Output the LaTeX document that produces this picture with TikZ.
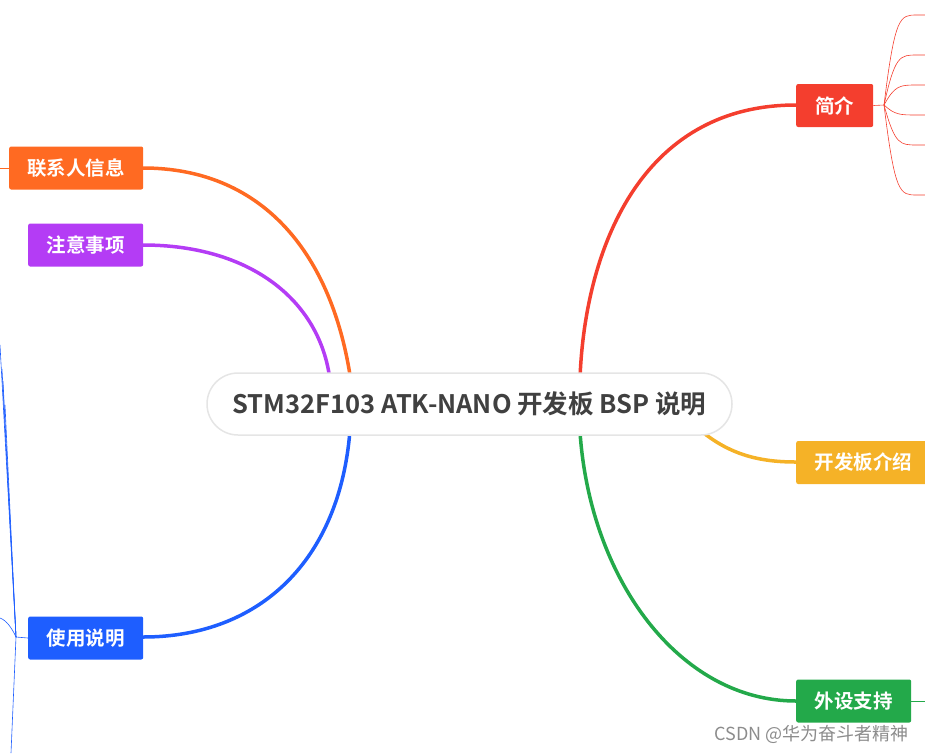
\documentclass[tikz,border=0pt]{standalone}
\usepackage{fontspec}
\setmainfont{Noto Sans CJK SC}
\newfontfamily\cjkb{Noto Sans CJK SC Bold}
\definecolor{cred}{HTML}{F43E2E}
\definecolor{cora}{HTML}{FF6A22}
\definecolor{cpur}{HTML}{B43CF5}
\definecolor{cblu}{HTML}{1E5EFF}
\definecolor{cyel}{HTML}{F5B227}
\definecolor{cgrn}{HTML}{23A94A}
\begin{document}
\begin{tikzpicture}[x=1pt,y=-1pt,
 topic/.style={fill=#1,rounded corners=2pt,text=white,font=\cjkb\fontsize{19.5}{21}\selectfont,minimum height=43pt,inner xsep=4pt,anchor=west},
 branch/.style={draw=#1,line width=3.5pt,line cap=round},
 thin/.style={draw=#1,line width=0.6pt}]
\useasboundingbox (0,0) rectangle (925,753);
% curves
\draw[branch=cred] (580,378) .. controls (585,250) and (640,105) .. (796,105);
\draw[branch=cora] (350,375) .. controls (330,250) and (260,168) .. (143,168);
\draw[branch=cpur] (330,380) .. controls (320,300) and (250,245) .. (143,245);
\draw[branch=cblu] (350,430) .. controls (340,560) and (260,637) .. (143,637);
\draw[branch=cyel] (700,430) .. controls (730,455) and (760,462) .. (796,462);
\draw[branch=cgrn] (580,432) .. controls (590,580) and (680,701) .. (796,701);
% center
\node[draw=black!10,line width=1.5pt,fill=white,rounded corners=31pt,minimum width=525pt,minimum height=62pt,font=\cjkb\fontsize{25.5}{27}\selectfont,text=black!75] (c) at (469.5,404) {STM32F103 ATK-NANO 开发板 BSP 说明};
% topics
\node[topic=cred,minimum width=77pt] (a) at (796,105.5) {简介};
\node[topic=cora,minimum width=134pt] (b) at (9,168) {联系人信息};
\node[topic=cpur,minimum width=115pt] (p) at (28,245) {注意事项};
\node[topic=cblu,minimum width=115pt] (u) at (28,638) {使用说明};
\node[topic=cyel,minimum width=135pt] (y) at (796,462.5) {开发板介绍};
\node[topic=cgrn,minimum width=115pt] (g) at (796,701) {外设支持};
% sub branches red
\coordinate (rh) at (884,105);
\draw[thin=cred] (a.east) -- (rh);
\foreach \yy in {15,55,85,115,145,195}
 \draw[thin=cred] (rh) .. controls (895,\yy) and (900,\yy) .. (917,\yy) -- (925,\yy);
% orange, green stubs
\coordinate (ol) at (0,168);
\draw[thin=cora] (b.west) -- (ol);
\coordinate (gr) at (925,701);
\draw[thin=cgrn] (g.east) -- (gr);
% blue sub branches
\coordinate (bh) at (16,637);
\draw[thin=cblu] (u.west) -- (bh);
\foreach \xx in {0,2,3,5}
 \draw[thin=cblu] (bh) -- (\xx,{345+\xx*12});
\draw[thin=cblu] (bh) .. controls (12,628) and (6,620) .. (0,618);
\draw[thin=cblu] (bh) -- (11,753);
% watermark
\node[text=black!45,font=\fontsize{18}{20}\selectfont,anchor=east] (w) at (912,734) {CSDN @华为奋斗者精神};
\end{tikzpicture}
\end{document}
